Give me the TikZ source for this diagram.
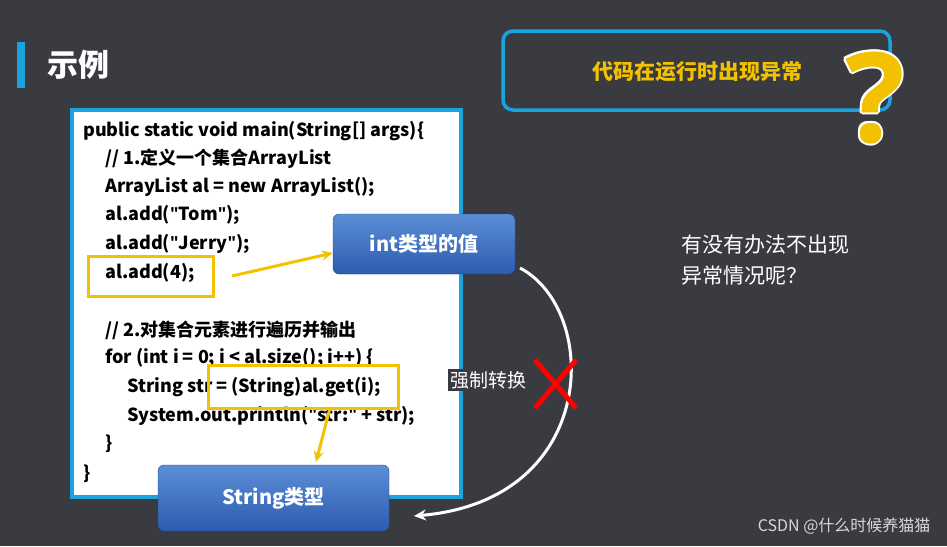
\documentclass[tikz,border=0pt]{standalone}
\usepackage{fontspec}
\setmainfont{Noto Sans CJK SC}
\newfontfamily\qf{Open Sans}
\usetikzlibrary{arrows.meta}
\definecolor{bg}{HTML}{3A3B40}
\definecolor{cy}{HTML}{1AA3DC}
\definecolor{yl}{HTML}{F2C200}
\definecolor{bt}{HTML}{5B8ED6}
\definecolor{bb}{HTML}{2D5BB0}
\newcommand{\qq}{{\qf\bfseries\symbol{34}}}
\tikzset{
 code/.style={anchor=west,inner sep=0,font=\fontsize{18}{18}\selectfont\bfseries,text=black},
 hl/.style={draw=yl,line width=3pt},
 bluebox/.style={rounded corners=6pt,top color=bt,bottom color=bb,draw=bb!80!black,text=white,font=\fontsize{20}{20}\selectfont\bfseries},
 yarrow/.style={draw=yl,line width=3pt,-{Stealth[length=11pt,width=10pt]}},
 qm/.style={font=\fontsize{125}{125}\selectfont\bfseries\qf}
}
\begin{document}
\begin{tikzpicture}[x=1pt,y=-1pt]
\fill[bg] (0,0) rectangle (947,546);
\useasboundingbox (0,0) rectangle (947,546);
\fill[cy] (17,42) rectangle (25,88);
\node[anchor=west,text=white,font=\fontsize{31}{31}\selectfont\bfseries] (title) at (44,65) {示例};
\draw[cy,line width=3.5pt,fill=white] (72,110) rectangle (461,497);
\node[code] (l1) at (83,131) {public static void main(String[] args)\{};
\node[code] (l2) at (105,159) {// 1.定义一个集合ArrayList};
\node[code] (l3) at (105,187) {ArrayList al = new ArrayList();};
\node[code] (l4) at (105,215) {al.add(\qq Tom\qq);};
\node[code] (l5) at (105,244) {al.add(\qq Jerry\qq);};
\node[code] (l6) at (105,273) {al.add(4);};
\node[code] (l7) at (105,330) {// 2.对集合元素进行遍历并输出};
\node[code] (l8) at (105,358) {for (int i = 0; i < al.size(); i++) \{};
\node[code] (l9) at (127,387) {String str = (String)al.get(i);};
\node[code] (l10) at (127,416) {System.out.println(\qq str:\qq{} + str);};
\node[code] (l11) at (105,444) {\}};
\node[code] (l12) at (83,474) {\}};
\node[hl,minimum width=125pt,minimum height=40pt] (h1) at (150.5,276) {};
\node[hl,minimum width=190pt,minimum height=43pt] (h2) at (303,386.5) {};
\node[bluebox,minimum width=182pt,minimum height=60pt] (intb) at (424,244) {int类型的值};
\node[bluebox,minimum width=231pt,minimum height=66pt] (strb) at (273.5,498) {String类型};
\coordinate (a1) at (232,276);
\coordinate (a2) at (330,408);
\draw[yarrow] (a1) -- (intb.west|-0,253);
\draw[yarrow] (a2) -- (316,462);
\draw[white,line width=3pt,-{Stealth[length=12pt,width=11pt]}] (520,268) .. controls (600,310) and (600,500) .. (414,516);
\node[anchor=west,text=white,fill=bg,inner sep=2pt,font=\fontsize{19}{19}\selectfont] (qz) at (448,380) {强制转换};
\draw[red,line width=5pt] (535,360) -- (576,408) (576,360) -- (535,408);
\draw[cy,line width=3.5pt,fill=bg,rounded corners=10pt] (503,31) rectangle (890,110);
\node[text=yl,font=\fontsize{21}{21}\selectfont\bfseries] (err) at (697,72) {代码在运行时出现异常};
\foreach \dx/\dy in {-2/0,2/0,0/-2,0/2,-1.5/-1.5,1.5/1.5,-1.5/1.5,1.5/-1.5}
  \node[qm,text=white] at (875+\dx,98+\dy) {?};
\node[qm,text=yl] (q) at (875,98) {?};
\node[anchor=west,align=left,text=white,font=\fontsize{21}{31}\selectfont] (ask) at (678,260) {有没有办法不出现\\异常情况呢？};
\node[anchor=east,text=white!80!bg,font=\fontsize{16}{16}\selectfont] (wm) at (934,526) {CSDN @什么时候养猫猫};
\end{tikzpicture}
\end{document}
